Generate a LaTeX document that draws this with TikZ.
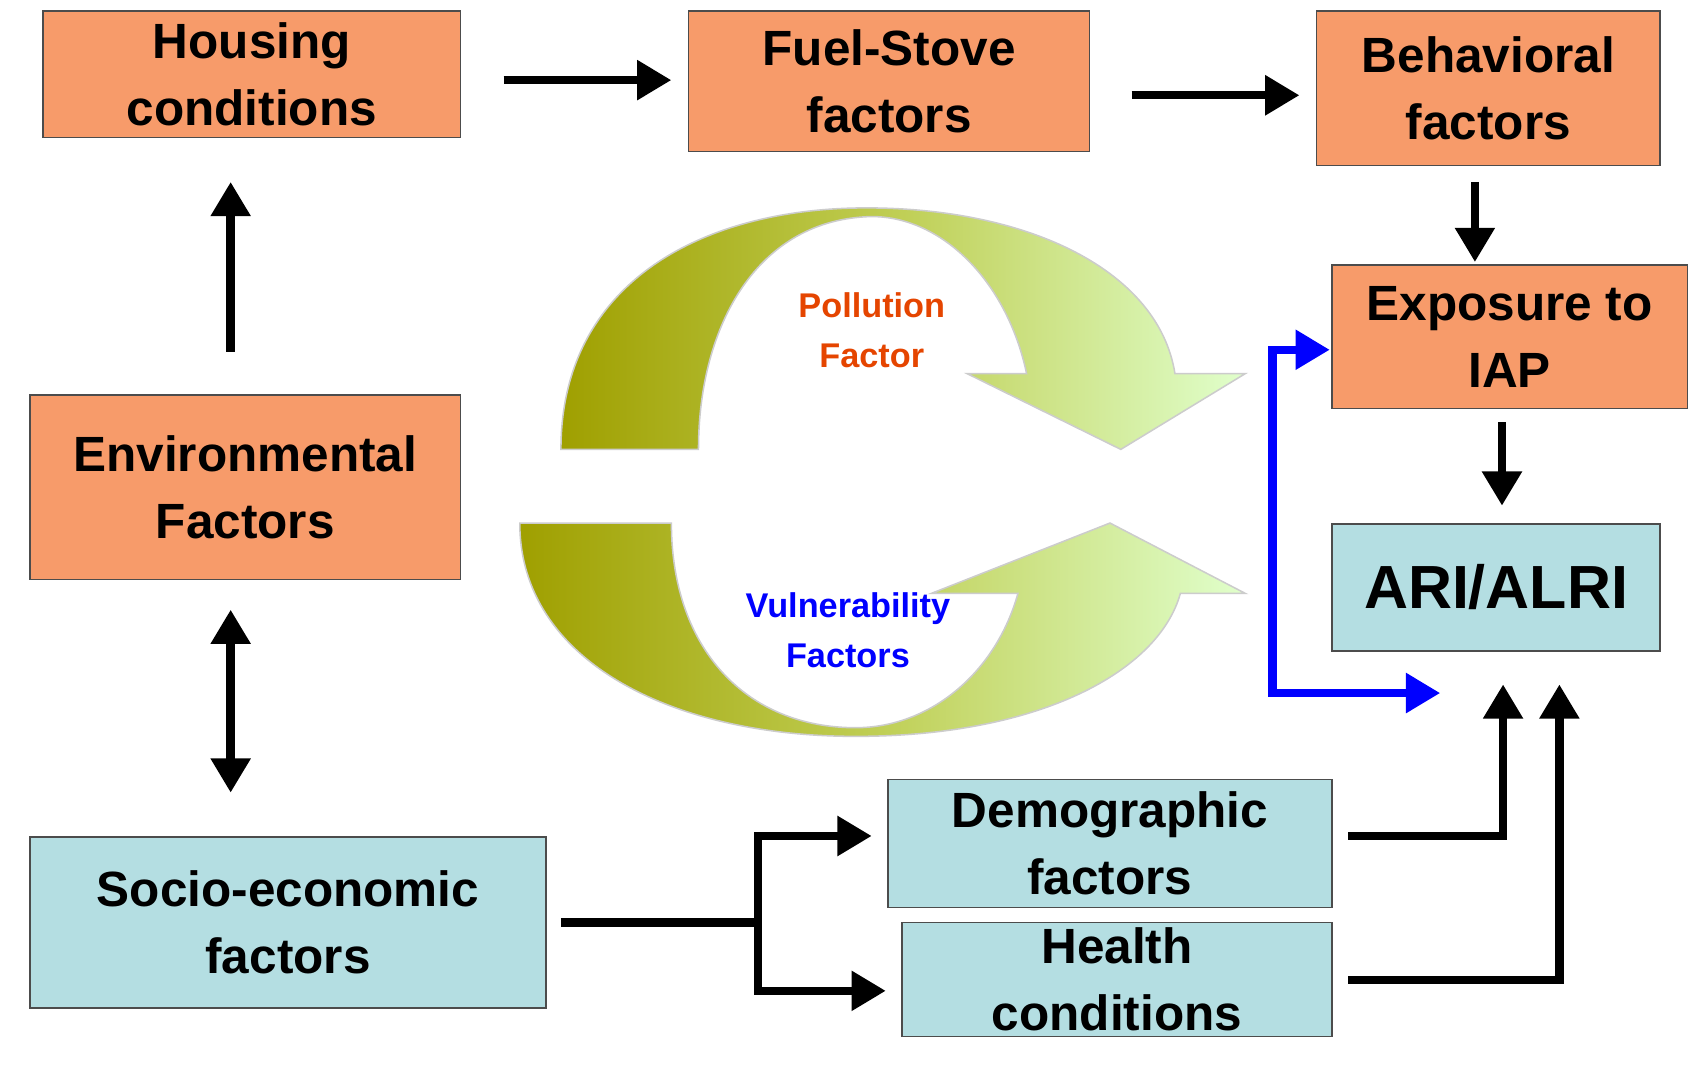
\documentclass[tikz,border=0pt]{standalone}
\usepackage{fontspec}
\setmainfont{Liberation Sans}
\usetikzlibrary{arrows.meta}
\begin{document}
\begin{tikzpicture}[x=0.01cm,y=-0.01cm,
  orb/.style={draw=black!70,fill=orb,font=\bfseries\fontsize{13}{17.6}\selectfont,align=center,inner sep=0},
  blb/.style={draw=black!70,fill=blb,font=\bfseries\fontsize{13}{17.6}\selectfont,align=center,inner sep=0},
  arr/.style={line width=2.2pt,-{Triangle[length=9pt,width=10pt]}},
  ln/.style={line width=2.2pt},
  curv/.style={draw=black!20,left color=olive!75!white,right color=yellow!40!green!20!white}]
\definecolor{orb}{HTML}{F79B6A}
\definecolor{blb}{HTML}{B4DEE2}
\useasboundingbox[fill=white] (0,0) rectangle (1568,986);
% curved arrows
\path[curv] (518,415) .. controls (518,260) and (650,192) .. (800,192) .. controls (950,192) and (1070,250) .. (1085,345) -- (1150,345) -- (1035,415) -- (893,345) -- (948,345) .. controls (930,260) and (870,200) .. (805,200) .. controls (700,202) and (645,300) .. (645,415) -- cycle;
\path[curv] (480,483) .. controls (480,610) and (620,680) .. (790,680) .. controls (960,680) and (1070,620) .. (1090,548) -- (1150,548) -- (1025,483) -- (860,548) -- (940,548) .. controls (920,620) and (860,672) .. (790,672) .. controls (690,672) and (620,600) .. (620,483) -- cycle;
\node[font=\bfseries\fontsize{9}{13}\selectfont,text=orange!60!red!90!black,align=center] (pf) at (805,305) {Pollution\\Factor};
\node[font=\bfseries\fontsize{9}{13}\selectfont,text=blue,align=center] (vf) at (783,582) {Vulnerability\\Factors};
% boxes
\node[orb,minimum width=3.85cm,minimum height=1.17cm] (hc) at (232.5,68.5) {Housing\\conditions};
\node[orb,minimum width=3.70cm,minimum height=1.30cm] (fs) at (821,75) {Fuel-Stove\\factors};
\node[orb,minimum width=3.17cm,minimum height=1.43cm] (bf) at (1374.5,81.5) {Behavioral\\factors};
\node[orb,minimum width=3.28cm,minimum height=1.32cm] (ex) at (1394,311) {Exposure to\\IAP};
\node[blb,minimum width=3.03cm,minimum height=1.17cm,font=\bfseries\fontsize{16}{20}\selectfont] (ari) at (1381.5,542.5) {ARI/ALRI};
\node[orb,minimum width=3.97cm,minimum height=1.70cm] (env) at (226.5,450) {Environmental\\Factors};
\node[blb,minimum width=4.76cm,minimum height=1.58cm] (se) at (266,852) {Socio-economic\\factors};
\node[blb,minimum width=4.10cm,minimum height=1.18cm] (dem) at (1025,779) {Demographic\\factors};
\node[blb,minimum width=3.97cm,minimum height=1.05cm] (hl) at (1031.5,904.5) {Health\\conditions};
% coordinates
\coordinate (a1) at (465,74); \coordinate (a2) at (620,74);
\coordinate (b1) at (1045,88); \coordinate (b2) at (1200,88);
\coordinate (c1) at (1362,168); \coordinate (c2) at (1362,242);
\coordinate (d1) at (1387,390); \coordinate (d2) at (1387,467);
\coordinate (e1) at (213,325); \coordinate (e2) at (213,168);
\coordinate (f1) at (213,563); \coordinate (f2) at (213,732);
\coordinate (s1) at (518,852); \coordinate (s2) at (700,852);
\coordinate (s3) at (700,772); \coordinate (s4) at (805,772);
\coordinate (s5) at (700,915); \coordinate (s6) at (818,915);
\coordinate (g1) at (1245,772); \coordinate (g2) at (1388,772); \coordinate (g3) at (1388,632);
\coordinate (h1) at (1245,905); \coordinate (h2) at (1440,905); \coordinate (h3) at (1440,632);
\coordinate (v1) at (1330,640); \coordinate (v2) at (1175,640); \coordinate (v3) at (1175,323); \coordinate (v4) at (1228,323);
\draw[arr] (a1) -- (a2);
\draw[arr] (b1) -- (b2);
\draw[arr] (c1) -- (c2);
\draw[arr] (d1) -- (d2);
\draw[arr] (e1) -- (e2);
\draw[arr,{Triangle[length=9pt,width=10pt]}-{Triangle[length=9pt,width=10pt]}] (f1) -- (f2);
\draw[ln] (s1) -- (s2);
\draw[arr] (s2) -- (s3) -- (s4);
\draw[arr] (s2) -- (s5) -- (s6);
\draw[arr] (g1) -- (g2) -- (g3);
\draw[arr] (h1) -- (h2) -- (h3);
\draw[arr,blue,{Triangle[length=9pt,width=10pt]}-{Triangle[length=9pt,width=10pt]}] (v1) -- (v2) -- (v3) -- (v4);
\end{tikzpicture}
\end{document}
